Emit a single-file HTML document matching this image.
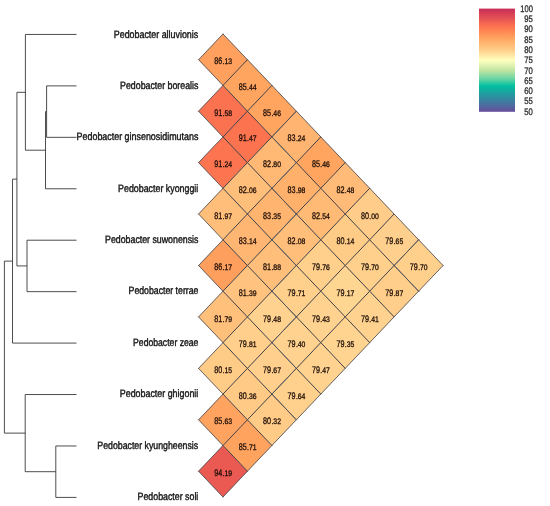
<!DOCTYPE html>
<html lang="en"><head><meta charset="utf-8"><title>Pedobacter similarity heatmap</title>
<style>html,body{margin:0;padding:0;background:#fff}body{width:550px;height:506px;overflow:hidden}</style></head>
<body>
<svg width="550" height="506" viewBox="0 0 550 506" style="display:block" text-rendering="geometricPrecision">
<rect width="550" height="506" fill="#fff"/>
<defs><linearGradient id="lg" x1="0" y1="0" x2="0" y2="1">
<stop offset="0.000" stop-color="#c82e58"/>
<stop offset="0.116" stop-color="#eb5a52"/>
<stop offset="0.170" stop-color="#fc7350"/>
<stop offset="0.200" stop-color="#ff7e50"/>
<stop offset="0.290" stop-color="#ffa560"/>
<stop offset="0.400" stop-color="#ffcd89"/>
<stop offset="0.500" stop-color="#ffffbf"/>
<stop offset="0.600" stop-color="#c0e5a2"/>
<stop offset="0.680" stop-color="#69d4a3"/>
<stop offset="0.750" stop-color="#00c0a0"/>
<stop offset="1.000" stop-color="#684e9e"/>
</linearGradient></defs>
<rect x="479" y="8.6" width="36" height="103.2" fill="url(#lg)"/>
<g font-family="'Liberation Sans', sans-serif" font-size="9.5" fill="#2a2a2a" stroke="#2a2a2a" stroke-width="0.3" text-anchor="end">
<text x="532.9" y="12.00" textLength="12.6" lengthAdjust="spacingAndGlyphs">100</text>
<text x="532.9" y="22.00" textLength="8.6" lengthAdjust="spacingAndGlyphs">95</text>
<text x="532.9" y="32.00" textLength="8.6" lengthAdjust="spacingAndGlyphs">90</text>
<text x="532.9" y="43.00" textLength="8.6" lengthAdjust="spacingAndGlyphs">85</text>
<text x="532.9" y="53.00" textLength="8.6" lengthAdjust="spacingAndGlyphs">80</text>
<text x="532.9" y="63.00" textLength="8.6" lengthAdjust="spacingAndGlyphs">75</text>
<text x="532.9" y="74.00" textLength="8.6" lengthAdjust="spacingAndGlyphs">70</text>
<text x="532.9" y="84.00" textLength="8.6" lengthAdjust="spacingAndGlyphs">65</text>
<text x="532.9" y="94.00" textLength="8.6" lengthAdjust="spacingAndGlyphs">60</text>
<text x="532.9" y="104.00" textLength="8.6" lengthAdjust="spacingAndGlyphs">55</text>
<text x="532.9" y="115.00" textLength="8.6" lengthAdjust="spacingAndGlyphs">50</text>
</g>
<g stroke="#2e2e2e" stroke-width="0.85" fill="none" stroke-linecap="butt" stroke-linejoin="miter">
<path d="M76.50 85.89H46.60V137.33H76.50"/>
<path d="M46.60 111.61H45.50V188.77H76.50"/>
<path d="M76.50 34.45H25.40V150.19H45.50"/>
<path d="M76.50 240.21H27.00V291.65H76.50"/>
<path d="M25.40 92.32H16.90V265.93H27.00"/>
<path d="M16.90 179.12H12.50V343.09H76.50"/>
<path d="M76.50 445.97H55.80V497.41H76.50"/>
<path d="M76.50 394.53H25.20V471.69H55.80"/>
<path d="M12.50 261.11H4.40V433.11H25.20"/>
</g>
<g font-family="'Liberation Sans', sans-serif" font-size="10.7" fill="#151515" stroke="#151515" stroke-width="0.4">
<text x="113.80" y="38.00" textLength="84.40" lengthAdjust="spacingAndGlyphs">Pedobacter alluvionis</text>
<text x="120.10" y="89.00" textLength="78.30" lengthAdjust="spacingAndGlyphs">Pedobacter borealis</text>
<text x="76.60" y="140.00" textLength="121.80" lengthAdjust="spacingAndGlyphs">Pedobacter ginsenosidimutans</text>
<text x="118.10" y="192.00" textLength="80.20" lengthAdjust="spacingAndGlyphs">Pedobacter kyonggii</text>
<text x="105.10" y="243.00" textLength="93.30" lengthAdjust="spacingAndGlyphs">Pedobacter suwonensis</text>
<text x="128.60" y="294.00" textLength="69.80" lengthAdjust="spacingAndGlyphs">Pedobacter terrae</text>
<text x="133.10" y="346.00" textLength="65.30" lengthAdjust="spacingAndGlyphs">Pedobacter zeae</text>
<text x="119.80" y="397.00" textLength="78.50" lengthAdjust="spacingAndGlyphs">Pedobacter ghigonii</text>
<text x="97.30" y="449.00" textLength="100.90" lengthAdjust="spacingAndGlyphs">Pedobacter kyungheensis</text>
<text x="137.60" y="500.00" textLength="60.70" lengthAdjust="spacingAndGlyphs">Pedobacter soli</text>
</g>
<g stroke="none">
<path d="M223.00 34.00L247.45 59.72L223.00 85.44L198.55 59.72Z" fill="#ffa05e" stroke="#ffa05e" stroke-width="0.4"/>
<path d="M223.00 85.44L247.45 111.16L223.00 136.88L198.55 111.16Z" fill="#fb7250" stroke="#fb7250" stroke-width="0.4"/>
<path d="M223.00 136.88L247.45 162.60L223.00 188.32L198.55 162.60Z" fill="#fd7550" stroke="#fd7550" stroke-width="0.4"/>
<path d="M223.00 188.32L247.45 214.04L223.00 239.76L198.55 214.04Z" fill="#ffbf7a" stroke="#ffbf7a" stroke-width="0.4"/>
<path d="M223.00 239.76L247.45 265.48L223.00 291.20L198.55 265.48Z" fill="#ff9f5e" stroke="#ff9f5e" stroke-width="0.4"/>
<path d="M223.00 291.20L247.45 316.92L223.00 342.64L198.55 316.92Z" fill="#ffc07c" stroke="#ffc07c" stroke-width="0.4"/>
<path d="M223.00 342.64L247.45 368.36L223.00 394.08L198.55 368.36Z" fill="#ffcc88" stroke="#ffcc88" stroke-width="0.4"/>
<path d="M223.00 394.08L247.45 419.80L223.00 445.52L198.55 419.80Z" fill="#ffa460" stroke="#ffa460" stroke-width="0.4"/>
<path d="M223.00 445.52L247.45 471.24L223.00 496.96L198.55 471.24Z" fill="#eb5a52" stroke="#eb5a52" stroke-width="0.4"/>
<path d="M247.45 59.72L271.90 85.44L247.45 111.16L223.00 85.44Z" fill="#ffa560" stroke="#ffa560" stroke-width="0.4"/>
<path d="M247.45 111.16L271.90 136.88L247.45 162.60L223.00 136.88Z" fill="#fc7350" stroke="#fc7350" stroke-width="0.4"/>
<path d="M247.45 162.60L271.90 188.32L247.45 214.04L223.00 188.32Z" fill="#ffbe7a" stroke="#ffbe7a" stroke-width="0.4"/>
<path d="M247.45 214.04L271.90 239.76L247.45 265.48L223.00 239.76Z" fill="#ffb672" stroke="#ffb672" stroke-width="0.4"/>
<path d="M247.45 265.48L271.90 291.20L247.45 316.92L223.00 291.20Z" fill="#ffc37f" stroke="#ffc37f" stroke-width="0.4"/>
<path d="M247.45 316.92L271.90 342.64L247.45 368.36L223.00 342.64Z" fill="#ffcf8b" stroke="#ffcf8b" stroke-width="0.4"/>
<path d="M247.45 368.36L271.90 394.08L247.45 419.80L223.00 394.08Z" fill="#ffca86" stroke="#ffca86" stroke-width="0.4"/>
<path d="M247.45 419.80L271.90 445.52L247.45 471.24L223.00 445.52Z" fill="#ffa35f" stroke="#ffa35f" stroke-width="0.4"/>
<path d="M271.90 85.44L296.35 111.16L271.90 136.88L247.45 111.16Z" fill="#ffa560" stroke="#ffa560" stroke-width="0.4"/>
<path d="M271.90 136.88L296.35 162.60L271.90 188.32L247.45 162.60Z" fill="#ffb974" stroke="#ffb974" stroke-width="0.4"/>
<path d="M271.90 188.32L296.35 214.04L271.90 239.76L247.45 214.04Z" fill="#ffb570" stroke="#ffb570" stroke-width="0.4"/>
<path d="M271.90 239.76L296.35 265.48L271.90 291.20L247.45 265.48Z" fill="#ffbf7b" stroke="#ffbf7b" stroke-width="0.4"/>
<path d="M271.90 291.20L296.35 316.92L271.90 342.64L247.45 316.92Z" fill="#ffd28f" stroke="#ffd28f" stroke-width="0.4"/>
<path d="M271.90 342.64L296.35 368.36L271.90 394.08L247.45 368.36Z" fill="#ffd08d" stroke="#ffd08d" stroke-width="0.4"/>
<path d="M271.90 394.08L296.35 419.80L271.90 445.52L247.45 419.80Z" fill="#ffcb87" stroke="#ffcb87" stroke-width="0.4"/>
<path d="M296.35 111.16L320.80 136.88L296.35 162.60L271.90 136.88Z" fill="#ffb571" stroke="#ffb571" stroke-width="0.4"/>
<path d="M296.35 162.60L320.80 188.32L296.35 214.04L271.90 188.32Z" fill="#ffb06b" stroke="#ffb06b" stroke-width="0.4"/>
<path d="M296.35 214.04L320.80 239.76L296.35 265.48L271.90 239.76Z" fill="#ffbe79" stroke="#ffbe79" stroke-width="0.4"/>
<path d="M296.35 265.48L320.80 291.20L296.35 316.92L271.90 291.20Z" fill="#ffd08c" stroke="#ffd08c" stroke-width="0.4"/>
<path d="M296.35 316.92L320.80 342.64L296.35 368.36L271.90 342.64Z" fill="#ffd38f" stroke="#ffd38f" stroke-width="0.4"/>
<path d="M296.35 368.36L320.80 394.08L296.35 419.80L271.90 394.08Z" fill="#ffd18d" stroke="#ffd18d" stroke-width="0.4"/>
<path d="M320.80 136.88L345.25 162.60L320.80 188.32L296.35 162.60Z" fill="#ffa560" stroke="#ffa560" stroke-width="0.4"/>
<path d="M320.80 188.32L345.25 214.04L320.80 239.76L296.35 214.04Z" fill="#ffbb76" stroke="#ffbb76" stroke-width="0.4"/>
<path d="M320.80 239.76L345.25 265.48L320.80 291.20L296.35 265.48Z" fill="#ffcf8c" stroke="#ffcf8c" stroke-width="0.4"/>
<path d="M320.80 291.20L345.25 316.92L320.80 342.64L296.35 316.92Z" fill="#ffd38f" stroke="#ffd38f" stroke-width="0.4"/>
<path d="M320.80 342.64L345.25 368.36L320.80 394.08L296.35 368.36Z" fill="#ffd28f" stroke="#ffd28f" stroke-width="0.4"/>
<path d="M345.25 162.60L369.70 188.32L345.25 214.04L320.80 188.32Z" fill="#ffbb77" stroke="#ffbb77" stroke-width="0.4"/>
<path d="M345.25 214.04L369.70 239.76L345.25 265.48L320.80 239.76Z" fill="#ffcc88" stroke="#ffcc88" stroke-width="0.4"/>
<path d="M345.25 265.48L369.70 291.20L345.25 316.92L320.80 291.20Z" fill="#ffd592" stroke="#ffd592" stroke-width="0.4"/>
<path d="M345.25 316.92L369.70 342.64L345.25 368.36L320.80 342.64Z" fill="#ffd490" stroke="#ffd490" stroke-width="0.4"/>
<path d="M369.70 188.32L394.15 214.04L369.70 239.76L345.25 214.04Z" fill="#ffcd89" stroke="#ffcd89" stroke-width="0.4"/>
<path d="M369.70 239.76L394.15 265.48L369.70 291.20L345.25 265.48Z" fill="#ffd08c" stroke="#ffd08c" stroke-width="0.4"/>
<path d="M369.70 291.20L394.15 316.92L369.70 342.64L345.25 316.92Z" fill="#ffd38f" stroke="#ffd38f" stroke-width="0.4"/>
<path d="M394.15 214.04L418.60 239.76L394.15 265.48L369.70 239.76Z" fill="#ffd08d" stroke="#ffd08d" stroke-width="0.4"/>
<path d="M394.15 265.48L418.60 291.20L394.15 316.92L369.70 291.20Z" fill="#ffce8a" stroke="#ffce8a" stroke-width="0.4"/>
<path d="M418.60 239.76L443.05 265.48L418.60 291.20L394.15 265.48Z" fill="#ffd08c" stroke="#ffd08c" stroke-width="0.4"/>
</g>
<path fill="none" stroke="#55555a" stroke-width="0.9" stroke-linecap="round" d="M223.0 34.0L247.4 59.7M198.6 59.7L223.0 85.4M198.6 59.7L223.0 34.0M198.6 111.2L223.0 136.9M198.6 111.2L223.0 85.4M198.6 162.6L223.0 188.3M198.6 162.6L223.0 136.9M198.6 214.0L223.0 239.8M198.6 214.0L223.0 188.3M198.6 265.5L223.0 291.2M198.6 265.5L223.0 239.8M198.6 316.9L223.0 342.6M198.6 316.9L223.0 291.2M198.6 368.4L223.0 394.1M198.6 368.4L223.0 342.6M198.6 419.8L223.0 445.5M198.6 419.8L223.0 394.1M223.0 497.0L247.4 471.2M198.6 471.2L223.0 497.0M198.6 471.2L223.0 445.5M247.4 59.7L271.9 85.4M247.4 471.2L271.9 445.5M271.9 85.4L296.3 111.2M271.9 136.9L296.3 111.2M271.9 136.9L296.3 162.6M271.9 188.3L296.3 162.6M271.9 188.3L296.3 214.0M271.9 239.8L296.3 214.0M271.9 239.8L296.3 265.5M271.9 291.2L296.3 265.5M271.9 291.2L296.3 316.9M271.9 342.6L296.3 316.9M271.9 342.6L296.3 368.4M271.9 394.1L296.3 368.4M271.9 394.1L296.3 419.8M271.9 445.5L296.3 419.8M296.4 111.2L320.8 136.9M271.9 136.9L296.4 162.6M271.9 136.9L296.4 111.2M271.9 188.3L296.4 214.0M271.9 188.3L296.4 162.6M271.9 239.8L296.4 265.5M271.9 239.8L296.4 214.0M271.9 291.2L296.4 316.9M271.9 291.2L296.4 265.5M271.9 342.6L296.4 368.4M271.9 342.6L296.4 316.9M296.4 419.8L320.8 394.1M271.9 394.1L296.4 419.8M271.9 394.1L296.4 368.4M320.8 136.9L345.2 162.6M320.8 394.1L345.2 368.4M345.2 162.6L369.7 188.3M345.2 368.4L369.7 342.6M369.7 188.3L394.1 214.0M369.7 342.6L394.1 316.9M394.1 214.0L418.6 239.8M394.1 265.5L418.6 239.8M394.1 265.5L418.6 291.2M394.1 316.9L418.6 291.2M418.6 239.8L443.1 265.5M418.6 291.2L443.1 265.5M394.2 265.5L418.6 291.2M394.2 265.5L418.6 239.8"/>
<path fill="none" stroke="#404046" stroke-width="1" stroke-linecap="butt" d="M223.0 85.4L247.4 59.7M223.0 85.4L247.4 111.2M223.0 136.9L247.4 111.2M223.0 136.9L247.4 162.6M223.0 188.3L247.4 162.6M223.0 188.3L247.4 214.0M223.0 239.8L247.4 214.0M223.0 239.8L247.4 265.5M223.0 291.2L247.4 265.5M223.0 291.2L247.4 316.9M223.0 342.6L247.4 316.9M223.0 342.6L247.4 368.4M223.0 394.1L247.4 368.4M223.0 394.1L247.4 419.8M223.0 445.5L247.4 419.8M223.0 445.5L247.4 471.2M247.4 111.2L271.9 85.4M247.4 111.2L271.9 136.9M247.4 162.6L271.9 136.9M247.4 162.6L271.9 188.3M247.4 214.0L271.9 188.3M247.4 214.0L271.9 239.8M247.4 265.5L271.9 239.8M247.4 265.5L271.9 291.2M247.4 316.9L271.9 291.2M247.4 316.9L271.9 342.6M247.4 368.4L271.9 342.6M247.4 368.4L271.9 394.1M247.4 419.8L271.9 394.1M247.4 419.8L271.9 445.5M296.4 162.6L320.8 136.9M296.4 162.6L320.8 188.3M296.4 214.0L320.8 188.3M296.4 214.0L320.8 239.8M296.4 265.5L320.8 239.8M296.4 265.5L320.8 291.2M296.4 316.9L320.8 291.2M296.4 316.9L320.8 342.6M296.4 368.4L320.8 342.6M296.4 368.4L320.8 394.1M320.8 188.3L345.2 162.6M320.8 188.3L345.2 214.0M320.8 239.8L345.2 214.0M320.8 239.8L345.2 265.5M320.8 291.2L345.2 265.5M320.8 291.2L345.2 316.9M320.8 342.6L345.2 316.9M320.8 342.6L345.2 368.4M345.2 214.0L369.7 188.3M345.2 214.0L369.7 239.8M345.2 265.5L369.7 239.8M345.2 265.5L369.7 291.2M345.2 316.9L369.7 291.2M345.2 316.9L369.7 342.6M369.7 239.8L394.1 214.0M369.7 239.8L394.1 265.5M369.7 291.2L394.1 265.5M369.7 291.2L394.1 316.9"/>
<g font-family="'Liberation Sans', sans-serif" fill="#1e0e08" stroke="#1e0e08" stroke-width="0.3">
<text x="214.20" y="64.00" font-size="9.6" textLength="8.0" lengthAdjust="spacingAndGlyphs">86</text>
<text x="222.55" y="64.00" font-size="8" textLength="9.5" lengthAdjust="spacingAndGlyphs">.13</text>
<text x="214.20" y="116.00" font-size="9.6" textLength="8.0" lengthAdjust="spacingAndGlyphs">91</text>
<text x="222.55" y="116.00" font-size="8" textLength="9.5" lengthAdjust="spacingAndGlyphs">.58</text>
<text x="214.20" y="167.00" font-size="9.6" textLength="8.0" lengthAdjust="spacingAndGlyphs">91</text>
<text x="222.55" y="167.00" font-size="8" textLength="9.5" lengthAdjust="spacingAndGlyphs">.24</text>
<text x="214.20" y="219.00" font-size="9.6" textLength="8.0" lengthAdjust="spacingAndGlyphs">81</text>
<text x="222.55" y="219.00" font-size="8" textLength="9.5" lengthAdjust="spacingAndGlyphs">.97</text>
<text x="214.20" y="270.00" font-size="9.6" textLength="8.0" lengthAdjust="spacingAndGlyphs">86</text>
<text x="222.55" y="270.00" font-size="8" textLength="9.5" lengthAdjust="spacingAndGlyphs">.17</text>
<text x="214.20" y="322.00" font-size="9.6" textLength="8.0" lengthAdjust="spacingAndGlyphs">81</text>
<text x="222.55" y="322.00" font-size="8" textLength="9.5" lengthAdjust="spacingAndGlyphs">.79</text>
<text x="214.20" y="373.00" font-size="9.6" textLength="8.0" lengthAdjust="spacingAndGlyphs">80</text>
<text x="222.55" y="373.00" font-size="8" textLength="9.5" lengthAdjust="spacingAndGlyphs">.15</text>
<text x="214.20" y="424.00" font-size="9.6" textLength="8.0" lengthAdjust="spacingAndGlyphs">85</text>
<text x="222.55" y="424.00" font-size="8" textLength="9.5" lengthAdjust="spacingAndGlyphs">.63</text>
<text x="214.20" y="476.00" font-size="9.6" textLength="8.0" lengthAdjust="spacingAndGlyphs">94</text>
<text x="222.55" y="476.00" font-size="8" textLength="9.5" lengthAdjust="spacingAndGlyphs">.19</text>
<text x="238.65" y="90.00" font-size="9.6" textLength="8.0" lengthAdjust="spacingAndGlyphs">85</text>
<text x="247.00" y="90.00" font-size="8" textLength="9.5" lengthAdjust="spacingAndGlyphs">.44</text>
<text x="238.65" y="141.00" font-size="9.6" textLength="8.0" lengthAdjust="spacingAndGlyphs">91</text>
<text x="247.00" y="141.00" font-size="8" textLength="9.5" lengthAdjust="spacingAndGlyphs">.47</text>
<text x="238.65" y="193.00" font-size="9.6" textLength="8.0" lengthAdjust="spacingAndGlyphs">82</text>
<text x="247.00" y="193.00" font-size="8" textLength="9.5" lengthAdjust="spacingAndGlyphs">.06</text>
<text x="238.65" y="244.00" font-size="9.6" textLength="8.0" lengthAdjust="spacingAndGlyphs">83</text>
<text x="247.00" y="244.00" font-size="8" textLength="9.5" lengthAdjust="spacingAndGlyphs">.14</text>
<text x="238.65" y="296.00" font-size="9.6" textLength="8.0" lengthAdjust="spacingAndGlyphs">81</text>
<text x="247.00" y="296.00" font-size="8" textLength="9.5" lengthAdjust="spacingAndGlyphs">.39</text>
<text x="238.65" y="347.00" font-size="9.6" textLength="8.0" lengthAdjust="spacingAndGlyphs">79</text>
<text x="247.00" y="347.00" font-size="8" textLength="9.5" lengthAdjust="spacingAndGlyphs">.81</text>
<text x="238.65" y="399.00" font-size="9.6" textLength="8.0" lengthAdjust="spacingAndGlyphs">80</text>
<text x="247.00" y="399.00" font-size="8" textLength="9.5" lengthAdjust="spacingAndGlyphs">.36</text>
<text x="238.65" y="450.00" font-size="9.6" textLength="8.0" lengthAdjust="spacingAndGlyphs">85</text>
<text x="247.00" y="450.00" font-size="8" textLength="9.5" lengthAdjust="spacingAndGlyphs">.71</text>
<text x="263.10" y="116.00" font-size="9.6" textLength="8.0" lengthAdjust="spacingAndGlyphs">85</text>
<text x="271.45" y="116.00" font-size="8" textLength="9.5" lengthAdjust="spacingAndGlyphs">.46</text>
<text x="263.10" y="167.00" font-size="9.6" textLength="8.0" lengthAdjust="spacingAndGlyphs">82</text>
<text x="271.45" y="167.00" font-size="8" textLength="9.5" lengthAdjust="spacingAndGlyphs">.80</text>
<text x="263.10" y="219.00" font-size="9.6" textLength="8.0" lengthAdjust="spacingAndGlyphs">83</text>
<text x="271.45" y="219.00" font-size="8" textLength="9.5" lengthAdjust="spacingAndGlyphs">.35</text>
<text x="263.10" y="270.00" font-size="9.6" textLength="8.0" lengthAdjust="spacingAndGlyphs">81</text>
<text x="271.45" y="270.00" font-size="8" textLength="9.5" lengthAdjust="spacingAndGlyphs">.88</text>
<text x="263.10" y="322.00" font-size="9.6" textLength="8.0" lengthAdjust="spacingAndGlyphs">79</text>
<text x="271.45" y="322.00" font-size="8" textLength="9.5" lengthAdjust="spacingAndGlyphs">.48</text>
<text x="263.10" y="373.00" font-size="9.6" textLength="8.0" lengthAdjust="spacingAndGlyphs">79</text>
<text x="271.45" y="373.00" font-size="8" textLength="9.5" lengthAdjust="spacingAndGlyphs">.67</text>
<text x="263.10" y="424.00" font-size="9.6" textLength="8.0" lengthAdjust="spacingAndGlyphs">80</text>
<text x="271.45" y="424.00" font-size="8" textLength="9.5" lengthAdjust="spacingAndGlyphs">.32</text>
<text x="287.55" y="141.00" font-size="9.6" textLength="8.0" lengthAdjust="spacingAndGlyphs">83</text>
<text x="295.90" y="141.00" font-size="8" textLength="9.5" lengthAdjust="spacingAndGlyphs">.24</text>
<text x="287.55" y="193.00" font-size="9.6" textLength="8.0" lengthAdjust="spacingAndGlyphs">83</text>
<text x="295.90" y="193.00" font-size="8" textLength="9.5" lengthAdjust="spacingAndGlyphs">.98</text>
<text x="287.55" y="244.00" font-size="9.6" textLength="8.0" lengthAdjust="spacingAndGlyphs">82</text>
<text x="295.90" y="244.00" font-size="8" textLength="9.5" lengthAdjust="spacingAndGlyphs">.08</text>
<text x="287.55" y="296.00" font-size="9.6" textLength="8.0" lengthAdjust="spacingAndGlyphs">79</text>
<text x="295.90" y="296.00" font-size="8" textLength="9.5" lengthAdjust="spacingAndGlyphs">.71</text>
<text x="287.55" y="347.00" font-size="9.6" textLength="8.0" lengthAdjust="spacingAndGlyphs">79</text>
<text x="295.90" y="347.00" font-size="8" textLength="9.5" lengthAdjust="spacingAndGlyphs">.40</text>
<text x="287.55" y="399.00" font-size="9.6" textLength="8.0" lengthAdjust="spacingAndGlyphs">79</text>
<text x="295.90" y="399.00" font-size="8" textLength="9.5" lengthAdjust="spacingAndGlyphs">.64</text>
<text x="312.00" y="167.00" font-size="9.6" textLength="8.0" lengthAdjust="spacingAndGlyphs">85</text>
<text x="320.35" y="167.00" font-size="8" textLength="9.5" lengthAdjust="spacingAndGlyphs">.46</text>
<text x="312.00" y="219.00" font-size="9.6" textLength="8.0" lengthAdjust="spacingAndGlyphs">82</text>
<text x="320.35" y="219.00" font-size="8" textLength="9.5" lengthAdjust="spacingAndGlyphs">.54</text>
<text x="312.00" y="270.00" font-size="9.6" textLength="8.0" lengthAdjust="spacingAndGlyphs">79</text>
<text x="320.35" y="270.00" font-size="8" textLength="9.5" lengthAdjust="spacingAndGlyphs">.76</text>
<text x="312.00" y="322.00" font-size="9.6" textLength="8.0" lengthAdjust="spacingAndGlyphs">79</text>
<text x="320.35" y="322.00" font-size="8" textLength="9.5" lengthAdjust="spacingAndGlyphs">.43</text>
<text x="312.00" y="373.00" font-size="9.6" textLength="8.0" lengthAdjust="spacingAndGlyphs">79</text>
<text x="320.35" y="373.00" font-size="8" textLength="9.5" lengthAdjust="spacingAndGlyphs">.47</text>
<text x="336.45" y="193.00" font-size="9.6" textLength="8.0" lengthAdjust="spacingAndGlyphs">82</text>
<text x="344.80" y="193.00" font-size="8" textLength="9.5" lengthAdjust="spacingAndGlyphs">.48</text>
<text x="336.45" y="244.00" font-size="9.6" textLength="8.0" lengthAdjust="spacingAndGlyphs">80</text>
<text x="344.80" y="244.00" font-size="8" textLength="9.5" lengthAdjust="spacingAndGlyphs">.14</text>
<text x="336.45" y="296.00" font-size="9.6" textLength="8.0" lengthAdjust="spacingAndGlyphs">79</text>
<text x="344.80" y="296.00" font-size="8" textLength="9.5" lengthAdjust="spacingAndGlyphs">.17</text>
<text x="336.45" y="347.00" font-size="9.6" textLength="8.0" lengthAdjust="spacingAndGlyphs">79</text>
<text x="344.80" y="347.00" font-size="8" textLength="9.5" lengthAdjust="spacingAndGlyphs">.35</text>
<text x="360.90" y="219.00" font-size="9.6" textLength="8.0" lengthAdjust="spacingAndGlyphs">80</text>
<text x="369.25" y="219.00" font-size="8" textLength="9.5" lengthAdjust="spacingAndGlyphs">.00</text>
<text x="360.90" y="270.00" font-size="9.6" textLength="8.0" lengthAdjust="spacingAndGlyphs">79</text>
<text x="369.25" y="270.00" font-size="8" textLength="9.5" lengthAdjust="spacingAndGlyphs">.70</text>
<text x="360.90" y="322.00" font-size="9.6" textLength="8.0" lengthAdjust="spacingAndGlyphs">79</text>
<text x="369.25" y="322.00" font-size="8" textLength="9.5" lengthAdjust="spacingAndGlyphs">.41</text>
<text x="385.35" y="244.00" font-size="9.6" textLength="8.0" lengthAdjust="spacingAndGlyphs">79</text>
<text x="393.70" y="244.00" font-size="8" textLength="9.5" lengthAdjust="spacingAndGlyphs">.65</text>
<text x="385.35" y="296.00" font-size="9.6" textLength="8.0" lengthAdjust="spacingAndGlyphs">79</text>
<text x="393.70" y="296.00" font-size="8" textLength="9.5" lengthAdjust="spacingAndGlyphs">.87</text>
<text x="409.80" y="270.00" font-size="9.6" textLength="8.0" lengthAdjust="spacingAndGlyphs">79</text>
<text x="418.15" y="270.00" font-size="8" textLength="9.5" lengthAdjust="spacingAndGlyphs">.70</text>
</g>
</svg>
</body></html>
